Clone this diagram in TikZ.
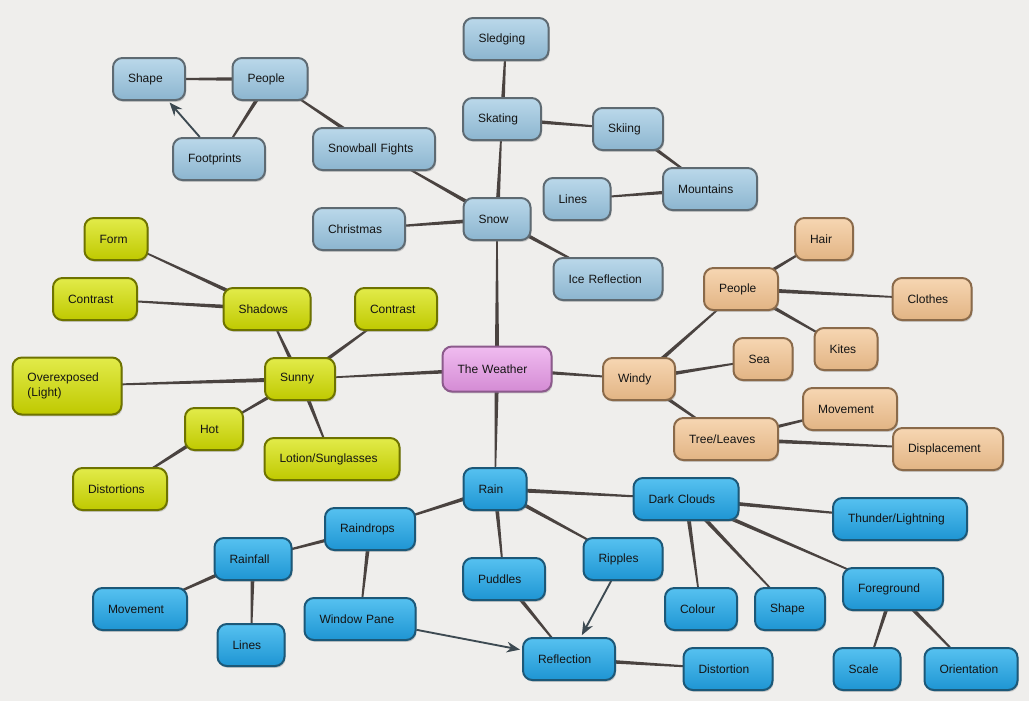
\documentclass[tikz,border=0pt]{standalone}
\usepackage{fontspec}
\setmainfont{Liberation Sans}
\usetikzlibrary{calc,shadows,arrows.meta}
\pgfdeclarelayer{bgfill}
\pgfdeclarelayer{background}
\pgfsetlayers{bgfill,background,main}
\definecolor{bgc}{HTML}{EFEEEC}
\definecolor{snowT}{HTML}{BAD8EA}
\definecolor{snowB}{HTML}{8CB5CF}
\definecolor{snowD}{HTML}{5E6A72}
\definecolor{sunT}{HTML}{E2EB4A}
\definecolor{sunB}{HTML}{BFC900}
\definecolor{sunD}{HTML}{6E7300}
\definecolor{windT}{HTML}{F6D6B2}
\definecolor{windB}{HTML}{E2B484}
\definecolor{windD}{HTML}{8A6A4A}
\definecolor{wthT}{HTML}{F0BCF0}
\definecolor{wthB}{HTML}{D48BD4}
\definecolor{wthD}{HTML}{8C5A8C}
\definecolor{rainT}{HTML}{56C1F0}
\definecolor{rainB}{HTML}{1E95D3}
\definecolor{rainD}{HTML}{1C5878}
\definecolor{connc}{HTML}{4A4340}
\definecolor{arrc}{HTML}{3D4A52}
\tikzset{
  bx/.style={rounded corners=7pt, line width=1.5pt, minimum height=31.5pt,
    inner xsep=11.25pt, inner ysep=2pt, align=left,
    font=\fontsize{9}{11.25}\selectfont, text=black!92,
    drop shadow={shadow xshift=0.8pt, shadow yshift=-1.4pt, opacity=0.35}},
  wd/.code={\pgfmathsetmacro\tw{#1*0.75-22.5}\edef\tmp{\noexpand\tikzset{text width=\tw pt}}\tmp},
  snowbox/.style={bx, draw=snowD, top color=snowT, bottom color=snowB},
  sunbox/.style={bx, draw=sunD, top color=sunT, bottom color=sunB},
  windbox/.style={bx, draw=windD, top color=windT, bottom color=windB},
  wthbox/.style={bx, draw=wthD, top color=wthT, bottom color=wthB},
  rainbox/.style={bx, draw=rainD, top color=rainT, bottom color=rainB},
  conn/.style={fill=connc},
  arr/.style={draw=arrc, line width=1.4pt, -{Stealth[length=10pt,width=8pt]}, shorten >=1.5pt},
}
\newcommand\taper[2]{\fill[conn] ($(#1)!1.7pt!90:(#2)$) -- ($(#2)!0.4pt!-90:(#1)$) -- ($(#2)!0.4pt!90:(#1)$) -- ($(#1)!1.7pt!-90:(#2)$) -- cycle;}
\begin{document}
\begin{tikzpicture}[x=0.75pt,y=-0.75pt]
\begin{pgfonlayer}{bgfill}
\fill[bgc] (0,0) rectangle (1029,701);
\end{pgfonlayer}
\useasboundingbox (0,0) rectangle (1029,701);
% Snow
\node[snowbox, wd=72] (sShape) at (149,79) {Shape};
\node[snowbox, wd=75] (sPeople) at (270,79) {People};
\node[snowbox, wd=92] (sFoot) at (219,159) {Footprints};
\node[snowbox, wd=122] (sBall) at (374,149) {Snowball Fights};
\node[snowbox, wd=85] (sSled) at (506,39) {Sledging};
\node[snowbox, wd=78] (sSkate) at (502,119) {Skating};
\node[snowbox, wd=70] (sSki) at (628,129) {Skiing};
\node[snowbox, wd=94] (sMount) at (710,189) {Mountains};
\node[snowbox, wd=67] (sLines) at (577,199) {Lines};
\node[snowbox, wd=67] (snow) at (497,219) {Snow};
\node[snowbox, wd=92] (sXmas) at (359,229) {Christmas};
\node[snowbox, wd=109] (sIce) at (608,279) {Ice Reflection};
% Weather
\node[wthbox, wd=109, minimum height=33.75pt] (weather) at (497,369) {The Weather};
% Sunny
\node[sunbox, wd=63] (uForm) at (116,239) {Form};
\node[sunbox, wd=84] (uContL) at (95,299) {Contrast};
\node[sunbox, wd=87] (uShad) at (267,309) {Shadows};
\node[sunbox, wd=82] (uContR) at (396,309) {Contrast};
\node[sunbox, wd=70] (sunny) at (300,379) {Sunny};
\node[sunbox, wd=109, minimum height=42.75pt] (uOver) at (67,386) {Overexposed\\(Light)};
\node[sunbox, wd=58] (uHot) at (214,429) {Hot};
\node[sunbox, wd=94] (uDist) at (120,489) {Distortions};
\node[sunbox, wd=135] (uLot) at (332,459) {Lotion/Sunglasses};
% Windy
\node[windbox, wd=58] (wHair) at (824,239) {Hair};
\node[windbox, wd=74] (wPeople) at (741,289) {People};
\node[windbox, wd=79] (wClothes) at (932,299) {Clothes};
\node[windbox, wd=63] (wKites) at (846,349) {Kites};
\node[windbox, wd=59] (wSea) at (763,359) {Sea};
\node[windbox, wd=72] (windy) at (639,379) {Windy};
\node[windbox, wd=94] (wMove) at (850,409) {Movement};
\node[windbox, wd=104] (wTree) at (726,439) {Tree/Leaves};
\node[windbox, wd=110] (wDisp) at (948,449) {Displacement};
% Rain
\node[rainbox, wd=63] (rain) at (495,489) {Rain};
\node[rainbox, wd=105] (rDark) at (686,499) {Dark Clouds};
\node[rainbox, wd=134] (rThun) at (900,519) {Thunder/Lightning};
\node[rainbox, wd=72] (rColour) at (701,609) {Colour};
\node[rainbox, wd=70] (rShape) at (790,609) {Shape};
\node[rainbox, wd=100] (rFore) at (893,589) {Foreground};
\node[rainbox, wd=67] (rScale) at (867,669) {Scale};
\node[rainbox, wd=93] (rOrient) at (971,669) {Orientation};
\node[rainbox, wd=89] (rDistn) at (728,669) {Distortion};
\node[rainbox, wd=92] (rRefl) at (569,659) {Reflection};
\node[rainbox, wd=82] (rPud) at (504,579) {Puddles};
\node[rainbox, wd=79] (rRip) at (623,559) {Ripples};
\node[rainbox, wd=111] (rWin) at (360,619) {Window Pane};
\node[rainbox, wd=90] (rDrops) at (370,529) {Raindrops};
\node[rainbox, wd=77] (rFall) at (253,559) {Rainfall};
\node[rainbox, wd=94] (rMove) at (140,609) {Movement};
\node[rainbox, wd=67] (rLines) at (251,645) {Lines};
\begin{pgfonlayer}{background}
% snow
\taper{sPeople}{sShape}
\taper{sPeople}{sFoot}
\taper{sBall}{sPeople}
\taper{snow}{sBall}
\taper{sSkate}{sSled}
\taper{snow}{sSkate}
\taper{sSkate}{sSki}
\taper{sSki}{sMount}
\taper{sMount}{sLines}
\taper{snow}{sXmas}
\taper{snow}{sIce}
\taper{weather}{snow}
% sunny
\taper{uShad}{uForm}
\taper{uShad}{uContL}
\taper{sunny}{uShad}
\taper{sunny}{uContR}
\taper{sunny}{uOver}
\taper{weather}{sunny}
\taper{sunny}{uHot}
\taper{uHot}{uDist}
\taper{sunny}{uLot}
% windy
\taper{weather}{windy}
\taper{windy}{wPeople}
\taper{wPeople}{wHair}
\taper{wPeople}{wClothes}
\taper{wPeople}{wKites}
\taper{windy}{wSea}
\taper{windy}{wTree}
\taper{wTree}{wMove}
\taper{wTree}{wDisp}
% rain
\taper{weather}{rain}
\taper{rain}{rDrops}
\taper{rDrops}{rFall}
\taper{rDrops}{rWin}
\taper{rFall}{rMove}
\taper{rFall}{rLines}
\taper{rain}{rPud}
\taper{rain}{rRip}
\taper{rain}{rDark}
\taper{rPud}{rRefl}
\taper{rRefl}{rDistn}
\taper{rDark}{rThun}
\taper{rDark}{rColour}
\taper{rDark}{rShape}
\taper{rDark}{rFore}
\taper{rFore}{rScale}
\taper{rFore}{rOrient}
\end{pgfonlayer}
\draw[arr] (sFoot) -- (sShape);
\draw[arr] (rRip) -- (rRefl);
\draw[arr] (rWin) -- (rRefl);
\end{tikzpicture}
\end{document}
